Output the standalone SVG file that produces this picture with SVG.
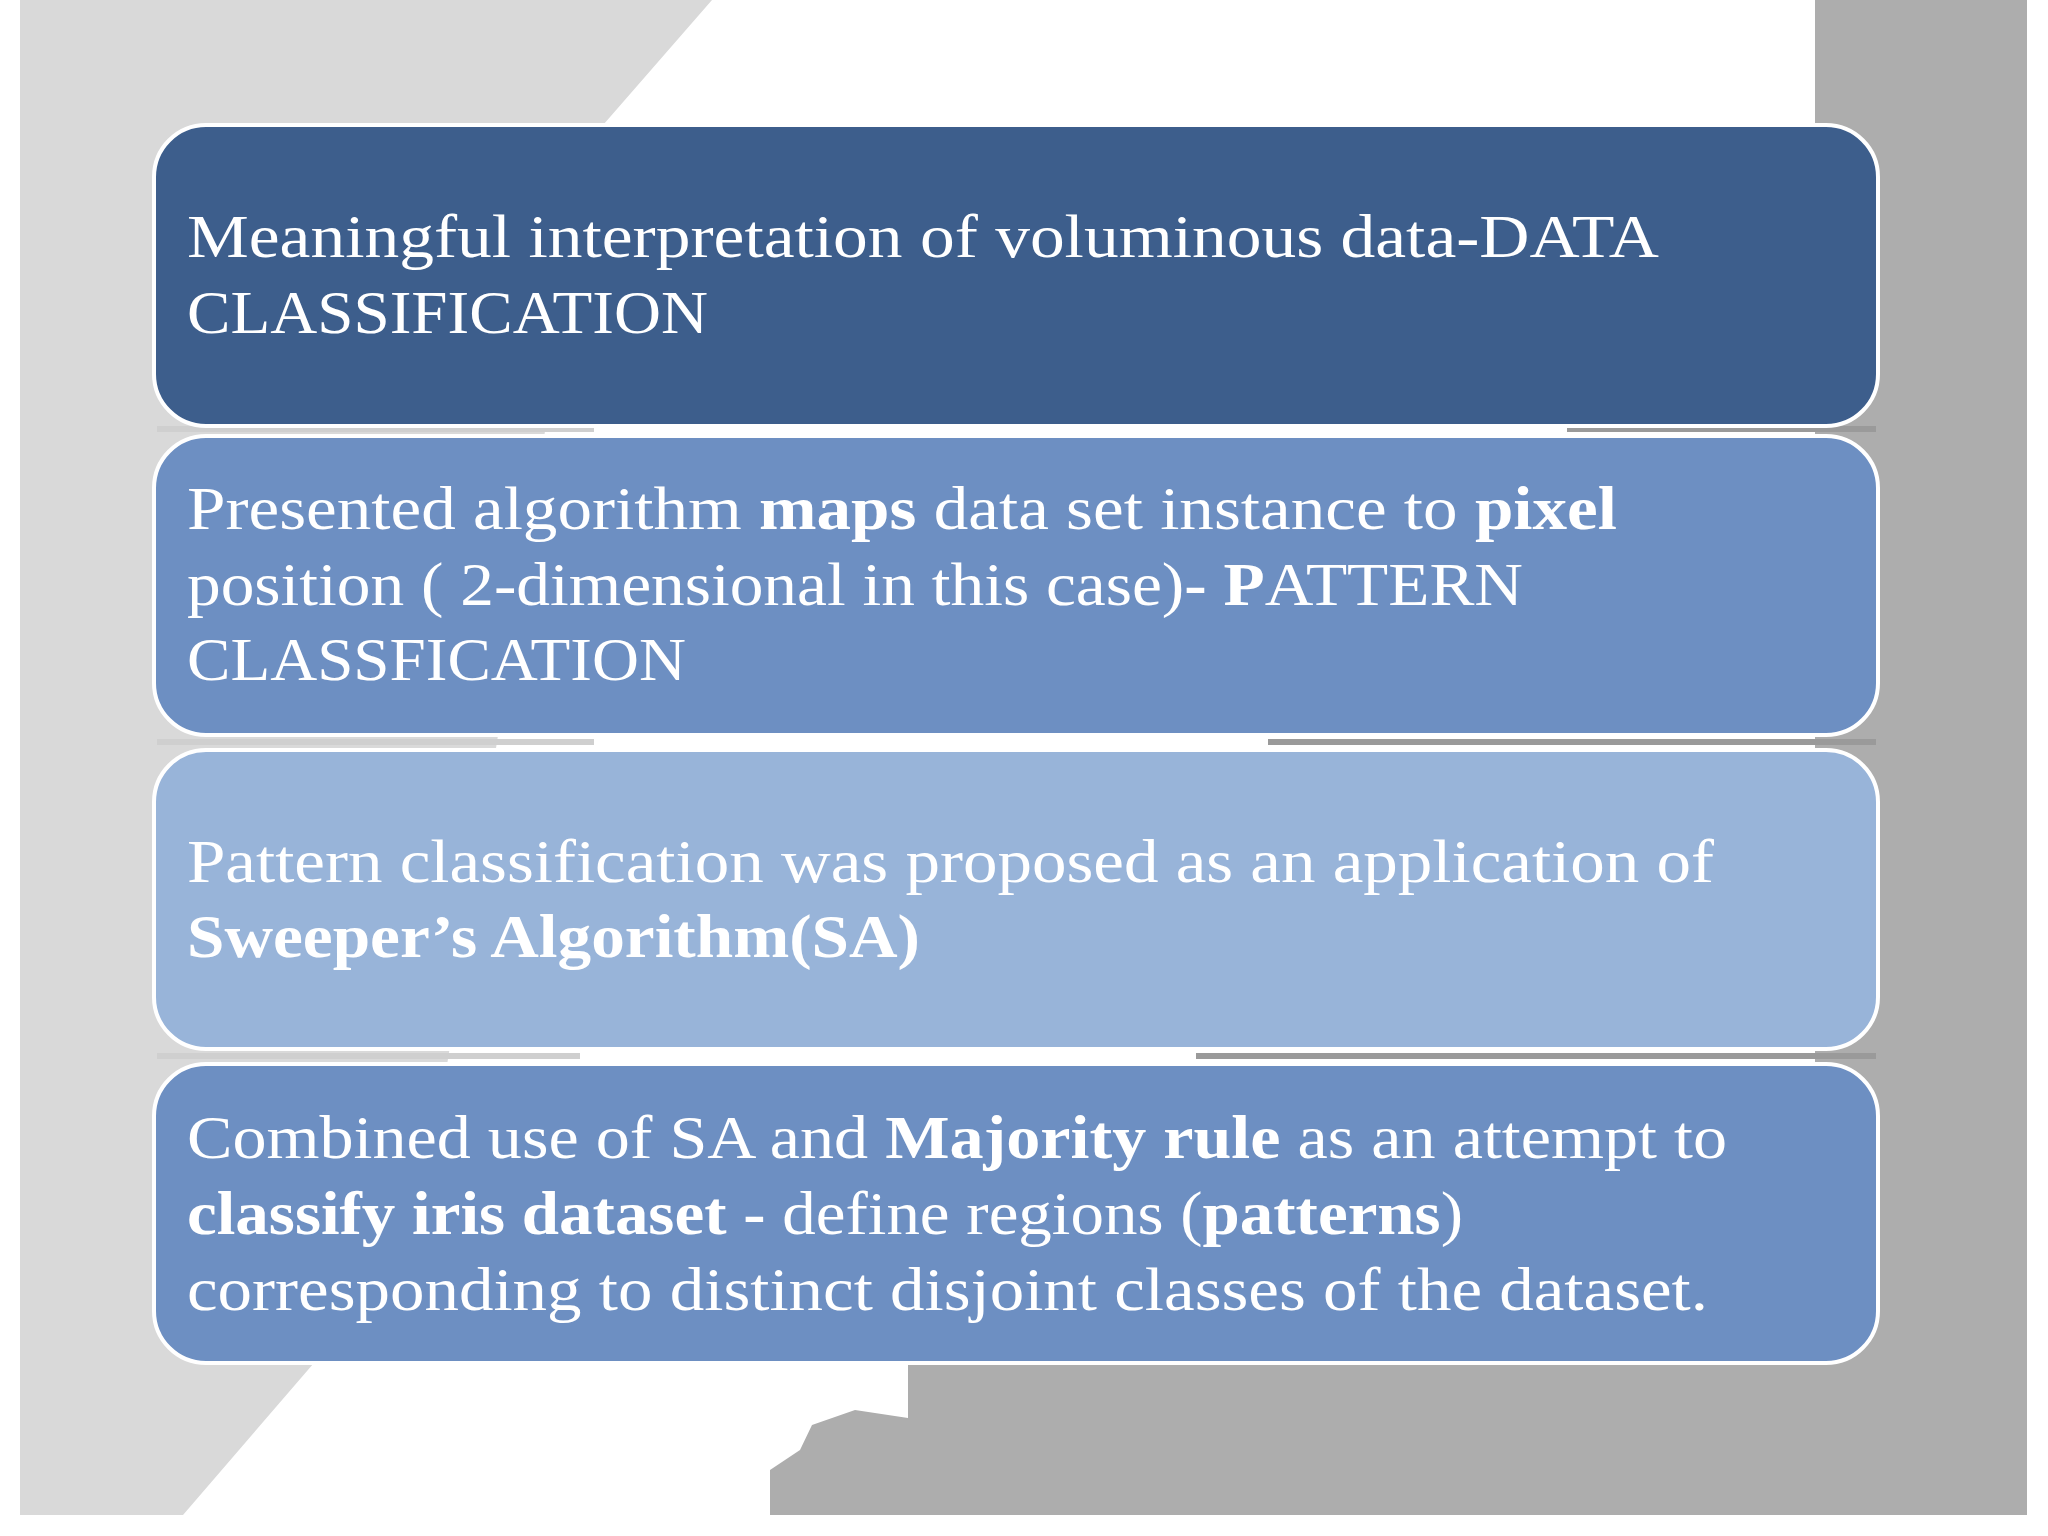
<svg xmlns="http://www.w3.org/2000/svg" width="2048" height="1536" viewBox="0 0 2048 1536">
<style>
.box{stroke:#fff;stroke-width:4}
.t{font-family:"Liberation Serif",serif;font-size:62px;fill:#fff}
.b{font-weight:bold}
</style>
<rect width="2048" height="1536" fill="#fff"/>
<polygon points="20,0 712,0 590,140 420,1240 183,1515 20,1515" fill="#d9d9d9"/>
<polygon points="1815,0 2027,0 2027,1515 770,1515 770,1470 800,1450 812,1425 855,1410 908,1418 908,1300 1815,1300" fill="#adadad"/>
<g stroke-width="6">
<line x1="157" y1="429" x2="594" y2="429" stroke="#cfcfcf"/><line x1="1567" y1="429" x2="1876" y2="429" stroke="#9a9a9a"/>
<line x1="157" y1="742" x2="594" y2="742" stroke="#cfcfcf"/><line x1="1268" y1="742" x2="1876" y2="742" stroke="#9a9a9a"/>
<line x1="157" y1="1056" x2="580" y2="1056" stroke="#cfcfcf"/><line x1="1196" y1="1056" x2="1876" y2="1056" stroke="#9a9a9a"/>
</g>
<g id="n1"><rect class="box" x="154" y="125" width="1724" height="301" rx="52" fill="#3d5e8c"/>
<text class="t" x="187" y="257" textLength="1472" lengthAdjust="spacingAndGlyphs">Meaningful interpretation of voluminous data-DATA</text>
<text class="t" x="187" y="333" textLength="521" lengthAdjust="spacingAndGlyphs">CLASSIFICATION</text></g>
<g id="n2"><rect class="box" x="154" y="436" width="1724" height="299" rx="52" fill="#6d8fc2"/>
<text class="t" x="187" y="529" textLength="1430" lengthAdjust="spacingAndGlyphs">Presented algorithm <tspan class="b">maps</tspan> data set instance to <tspan class="b">pixel</tspan></text>
<text class="t" x="187" y="605" textLength="1336" lengthAdjust="spacingAndGlyphs">position ( 2-dimensional in this case)<tspan class="b">- P</tspan>ATTERN</text>
<text class="t" x="187" y="680" textLength="499" lengthAdjust="spacingAndGlyphs">CLASSFICATION</text></g>
<g id="n3"><rect class="box" x="154" y="750" width="1724" height="299" rx="52" fill="#98b4d9"/>
<text class="t" x="187" y="882" textLength="1527" lengthAdjust="spacingAndGlyphs">Pattern classification was proposed as an application of</text>
<text class="t b" x="187" y="957" textLength="733" lengthAdjust="spacingAndGlyphs">Sweeper’s Algorithm(SA)</text></g>
<g id="n4"><rect class="box" x="154" y="1064" width="1724" height="299" rx="52" fill="#6d8fc2"/>
<text class="t" x="187" y="1158" textLength="1540" lengthAdjust="spacingAndGlyphs">Combined use of SA and <tspan class="b">Majority rule</tspan> as an attempt to</text>
<text class="t" x="187" y="1234" textLength="1276" lengthAdjust="spacingAndGlyphs"><tspan class="b">classify iris dataset -</tspan> define regions (<tspan class="b">patterns</tspan>)</text>
<text class="t" x="187" y="1310" textLength="1521" lengthAdjust="spacingAndGlyphs">corresponding to distinct disjoint classes of the dataset.</text></g>
<g id="connectors"/>
</svg>
